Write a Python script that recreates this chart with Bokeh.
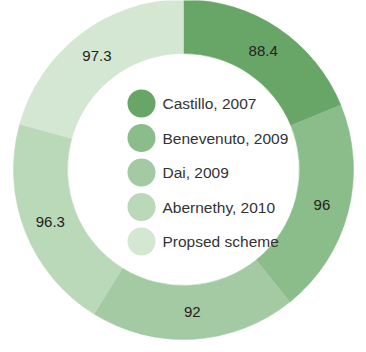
import math
from bokeh.plotting import figure
from bokeh.models import Range1d, ColumnDataSource
from bokeh.core.properties import value
from bokeh.embed import file_html
from bokeh.resources import INLINE

# ---- data ----
methods = ["Castillo, 2007", "Benevenuto, 2009", "Dai, 2009", "Abernethy, 2010", "Propsed scheme"]
scores = [88.4, 96, 92, 96.3, 97.3]
score_labels = ["88.4", "96", "92", "96.3", "97.3"]
colors = ["#67a667", "#8bbd8a", "#a3caa2", "#bad9b9", "#d3e7d2"]

W, H = 366, 352
cx, cy = 183, 183
r_in, r_out = 116, 170

total = sum(scores)
starts, ends, lx, ly = [], [], [], []
cum = 0.0
for v in scores:
    a0 = math.pi / 2 - 2 * math.pi * cum / total
    cum += v
    a1 = math.pi / 2 - 2 * math.pi * cum / total
    starts.append(a0)
    ends.append(a1)
    mid = (a0 + a1) / 2
    rm = (r_in + r_out) / 2
    lx.append(cx + rm * math.cos(mid))
    ly.append(cy + rm * math.sin(mid))

src = ColumnDataSource(dict(start=starts, end=ends, color=colors,
                            lx=lx, ly=ly, lab=score_labels))

p = figure(width=W, height=H, x_range=Range1d(0, W), y_range=Range1d(0, H),
           output_backend="svg", toolbar_location=None, min_border=0,
           background_fill_color="white", border_fill_color="white")
p.axis.visible = False
p.grid.visible = False
p.outline_line_color = None

p.annular_wedge(x=cx, y=cy, inner_radius=r_in, outer_radius=r_out,
                start_angle="start", end_angle="end", direction="clock",
                fill_color="color", line_color="color", line_width=0.5, source=src)

p.text(x="lx", y="ly", text="lab", source=src, text_align="center",
       text_baseline="middle", text_font=value("Liberation Sans"),
       text_font_size="15px", text_color="#222222")

# legend inside the donut
leg_x = [141] * len(methods)
leg_y = [H - (103 + 34.5 * i) for i in range(len(methods))]
tx = [162] * len(methods)
lsrc = ColumnDataSource(dict(x=leg_x, y=leg_y, tx=tx, name=methods, color=colors))
p.scatter(x="x", y="y", size=28, fill_color="color", line_color=None, source=lsrc)
p.text(x="tx", y="y", text="name", source=lsrc, text_align="left",
       text_baseline="middle", text_font=value("Liberation Sans"),
       text_font_size="15.5px", text_color="#333333")

open("out.html", "w").write(file_html(p, INLINE))
